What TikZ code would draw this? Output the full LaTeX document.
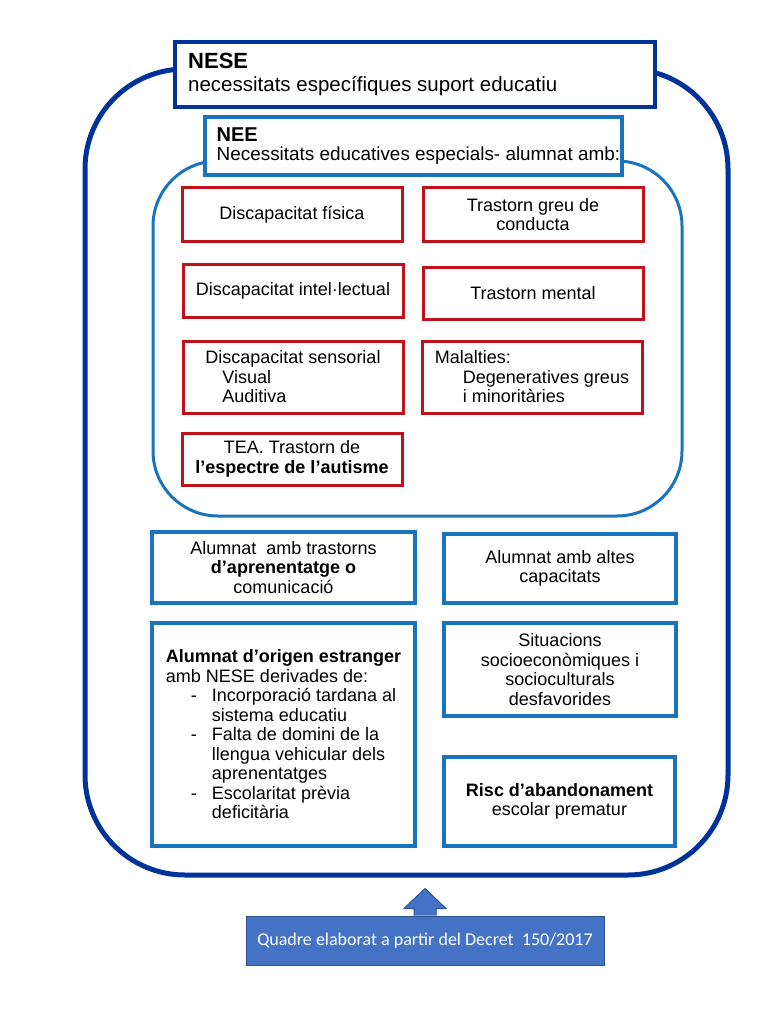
\documentclass[tikz,border=0pt]{standalone}
\usepackage{fontspec}
\setmainfont{Liberation Sans}
\newfontfamily\calibri{Carlito}
\usepackage{tikz}
\usetikzlibrary{calc}
\definecolor{neseDark}{HTML}{00339A}
\definecolor{neeBlue}{HTML}{1A73BE}
\definecolor{neeRed}{HTML}{C0101A}
\definecolor{decretFill}{HTML}{4472C4}
\definecolor{decretLine}{HTML}{2F528F}
\tikzset{
  redbox/.style={draw=neeRed, line width=3pt, fill=white, minimum width=220pt,
    align=center, inner sep=2pt, font=\fontsize{18}{19.5}\selectfont},
  bluebox/.style={draw=neeBlue, line width=3.5pt, fill=white,
    align=center, inner sep=2pt, font=\fontsize{18}{19.5}\selectfont},
  titletext/.style={anchor=west, align=left, inner sep=0pt},
}

\begin{document}
\begin{tikzpicture}[x=1pt,y=-1pt]
\useasboundingbox (0,0) rectangle (768,1024);
% outer frame NESE
\draw [neseDark,line width=5pt,rounded corners=100pt] (85,69) rectangle (728,875);
\filldraw [fill=white,draw=neseDark,line width=4.5pt] (175,42) rectangle (655,107);
\node [titletext,font=\fontsize{20.5}{23.4}\selectfont] (nese) at (188,74.5)
  {{\fontsize{22}{23.4}\selectfont\bfseries NESE}\\necessitats específiques suport educatiu};
% inner frame NEE
\draw [neeBlue,line width=3pt,rounded corners=65pt] (153,161) rectangle (682,516);
\filldraw [fill=white,draw=neeBlue,line width=3.5pt] (205,117) rectangle (622,175);
\node [titletext,font=\fontsize{18.9}{19.5}\selectfont] (nee) at (216.5,146)
  {{\fontsize{20}{19.5}\selectfont\bfseries NEE}\\Necessitats educatives especials- alumnat amb:};
% NEE boxes
\node [redbox,minimum height=53pt] (fisica) at (292,214.5) {Discapacitat física};
\node [redbox,minimum height=53pt] (conducta) at (533,214.5) {Trastorn greu de\\conducta};
\node [redbox,minimum height=53pt] (intel) at (293,290.5) {Discapacitat intel·lectual};
\node [redbox,minimum height=52pt] (mental) at (533,293) {Trastorn mental};
\node [redbox,minimum height=72pt,align=left] (sensorial) at (293,377)
  {Discapacitat sensorial\\\hspace*{17pt}Visual\\\hspace*{17pt}Auditiva};
\node [redbox,minimum height=72pt,align=left] (malalties) at (532,377)
  {Malalties:\\\hspace*{28pt}Degeneratives greus\\\hspace*{28pt}i minoritàries};
\node [redbox,minimum height=52pt] (tea) at (292,459)
  {TEA. Trastorn de\\\textbf{l’espectre de l’autisme}};
% other NESE boxes
\node [bluebox,minimum width=263pt,minimum height=71pt] (aprenentatge) at (283.5,567.5)
  {Alumnat\ \ amb trastorns\\\textbf{d’aprenentatge o}\\comunicació};
\node [bluebox,minimum width=232pt,minimum height=69pt] (altes) at (560,568.5)
  {Alumnat amb altes\\capacitats};
\node [bluebox,minimum width=263pt,minimum height=223pt,align=left] (estranger) at (283.5,734.5)
  {\textbf{Alumnat d’origen estranger}\\amb NESE derivades de:\\
   \makebox[46pt][l]{\hspace*{25pt}-}Incorporació tardana al\\
   \hspace*{46pt}sistema educatiu\\
   \makebox[46pt][l]{\hspace*{25pt}-}Falta de domini de la\\
   \hspace*{46pt}llengua vehicular dels\\
   \hspace*{46pt}aprenentatges\\
   \makebox[46pt][l]{\hspace*{25pt}-}Escolaritat prèvia\\
   \hspace*{46pt}deficitària};
\node [bluebox,minimum width=232pt,minimum height=93pt] (socio) at (560,669.5)
  {Situacions\\socioeconòmiques i\\socioculturals\\desfavorides};
\node [bluebox,minimum width=231pt,minimum height=89pt] (risc) at (559.5,801.5)
  {\textbf{Risc d’abandonament}\\escolar prematur};
% source note
\node [fill=decretFill,draw=decretLine,line width=1pt,minimum width=358pt,minimum height=49pt,
  text=white,font=\calibri\fontsize{18}{20}\selectfont] (decret) at (425,940.5)
  {Quadre elaborat a partir del Decret\ \ 150/2017};
\filldraw [fill=decretFill,draw=decretLine,line width=1pt]
  ([xshift=-11pt]decret.north) -- ++(0,-7) -- ++(-10,0) -- ++(21,-20)
  -- ++(21,20) -- ++(-10,0) -- ++(0,7);
\end{tikzpicture}
\end{document}
